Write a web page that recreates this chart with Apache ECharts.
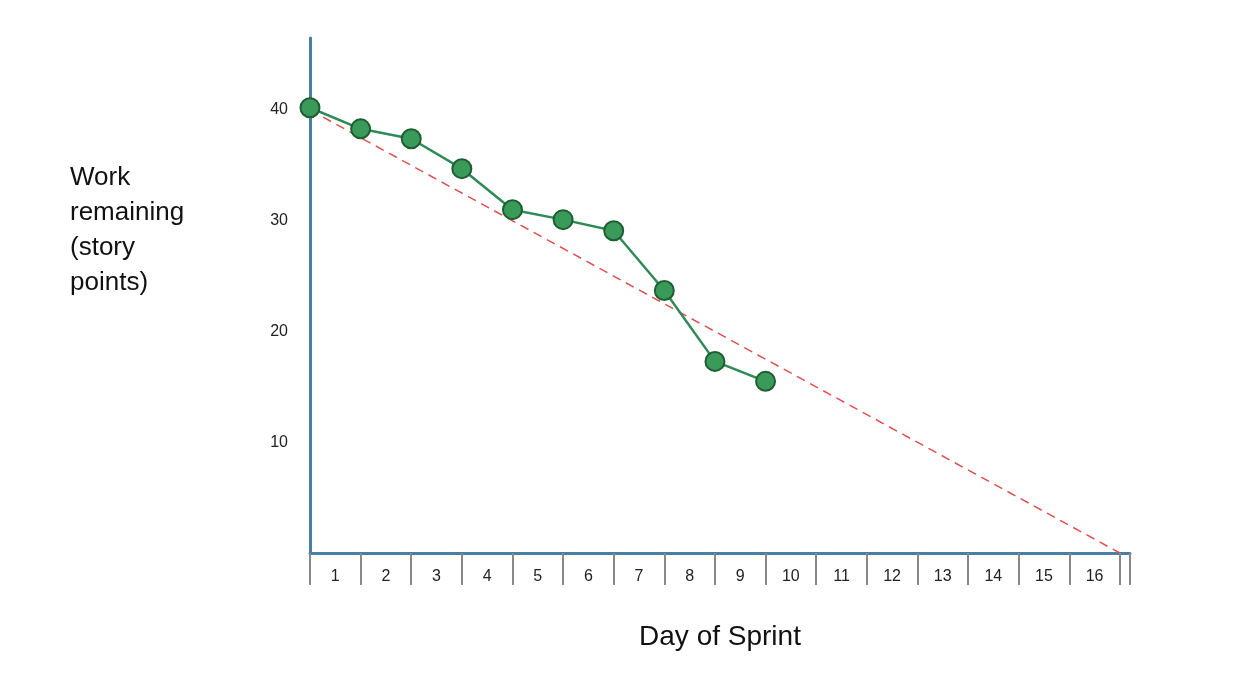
<!DOCTYPE html>
<html><head><meta charset="utf-8">
<script src="https://cdn.jsdelivr.net/npm/echarts@6/dist/echarts.min.js"></script>
<style>html,body{margin:0;background:#fff}#c{width:1256px;height:698px}</style>
</head><body><div id="c"></div>
<script>
const days = [0,1,2,3,4,5,6,7,8,9];
const actual = [40.2,38.3,37.4,34.7,31.0,30.1,29.1,23.7,17.3,15.5];
const ideal = [[0,40],[16,0]];
const yTicks = [10,20,30,40];
const chart = echarts.init(document.getElementById('c'));
const font = 'Arial, "Liberation Sans", sans-serif';
chart.setOption({
  animation:false,
  grid:{left:310,right:126,top:38,bottom:145},
  xAxis:[{
    type:'value',min:0,max:16.2,interval:1,
    axisLine:{show:true,lineStyle:{color:'#4a7fa5',width:3}},
    axisTick:{show:true,length:32,lineStyle:{color:'#888',width:2}},
    axisLabel:{show:false},splitLine:{show:false},
    name:'Day of Sprint',nameLocation:'middle',nameGap:70,
    nameTextStyle:{fontSize:28,color:'#111',fontFamily:font}
  },{
    type:'value',min:0,max:16.2,interval:0.5,position:'bottom',
    axisLine:{show:false},axisTick:{show:false},splitLine:{show:false},
    axisLabel:{margin:16,fontSize:16,color:'#222',fontFamily:font,
      formatter:v=>(Math.abs(v%1-0.5)<1e-6 && v<16)?String(Math.ceil(v)):''}
  }],
  yAxis:{
    type:'value',min:0,max:46.5,
    axisLine:{show:true,lineStyle:{color:'#4a7fa5',width:3}},
    axisTick:{show:false},splitLine:{show:false},
    axisLabel:{fontSize:16,color:'#222',fontFamily:font,margin:22,
      formatter:v=>yTicks.includes(v)?String(v):''},
    interval:10
  },
  graphic:[{type:'text',left:70,top:160,style:{text:'Work\nremaining\n(story\npoints)',
    fontSize:26,lineHeight:35,fill:'#111',font:'26px '+font}}],
  series:[{
    type:'line',data:ideal,symbol:'none',
    lineStyle:{color:'#e05050',type:[9,6],width:1.5},z:1
  },{
    type:'line',data:days.map((d,i)=>[d,actual[i]]),
    symbol:'circle',symbolSize:19,
    lineStyle:{color:'#2e8b57',width:2.5},
    itemStyle:{color:'#3a9a5a',borderColor:'#1e5e32',borderWidth:2},z:3
  }]
});
</script></body></html>
